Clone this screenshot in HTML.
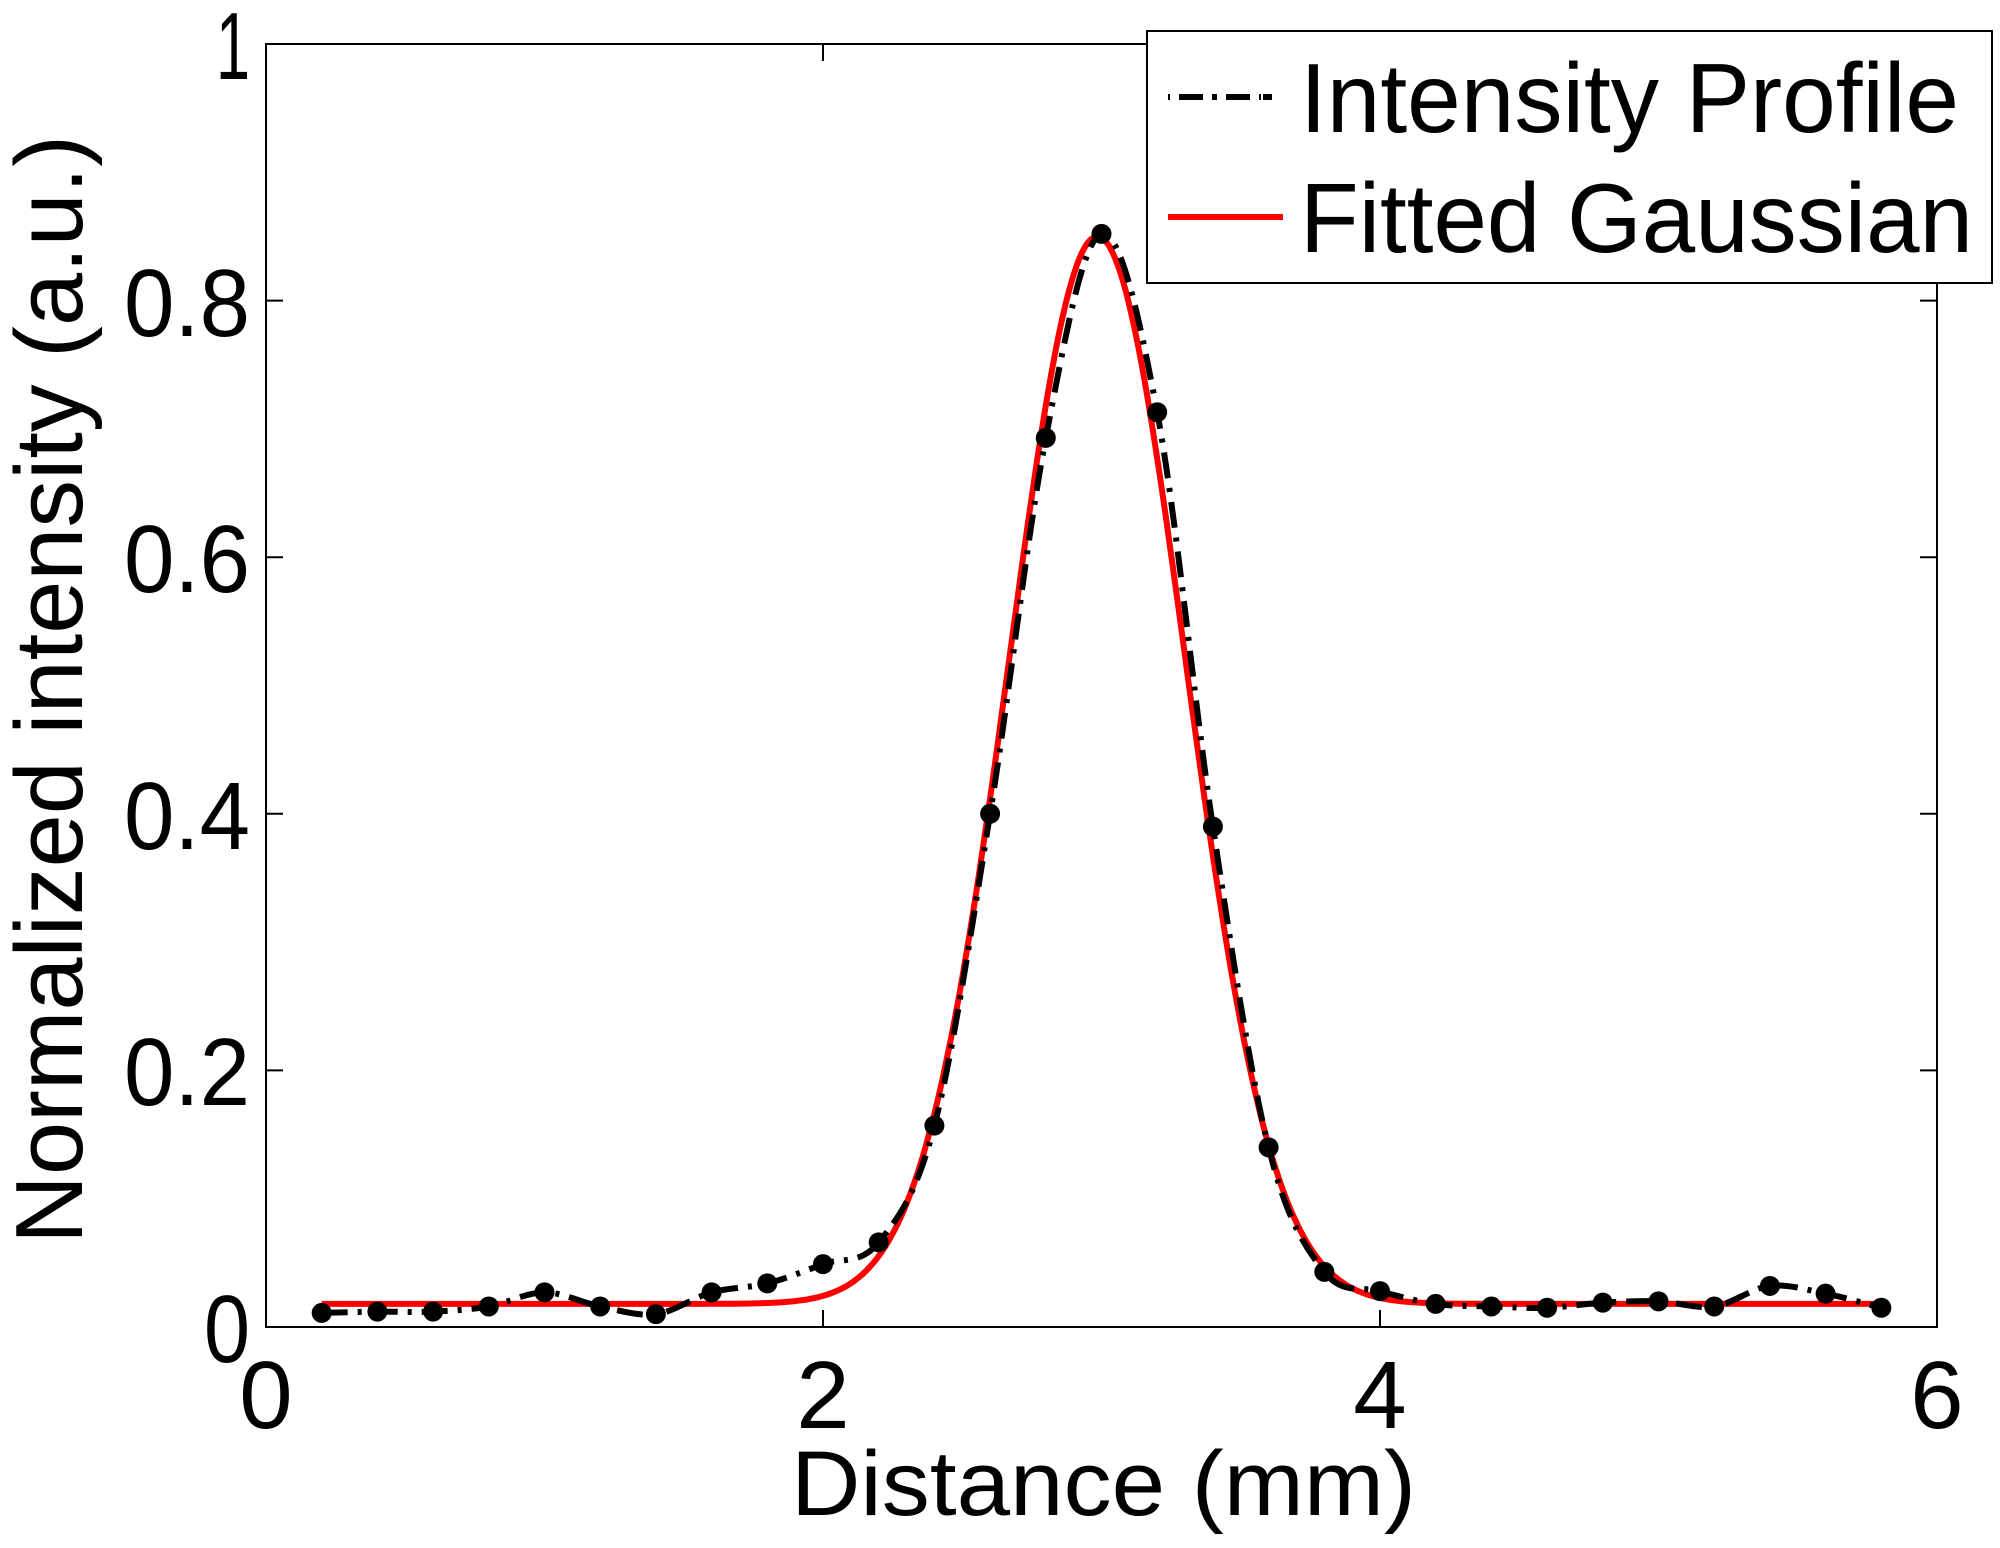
<!DOCTYPE html>
<html><head><meta charset="utf-8"><style>
html,body{margin:0;padding:0;background:#fff;}
svg{display:block;}
text{font-family:"Liberation Sans",sans-serif;fill:#000;}
</style></head><body>
<svg id="s" width="2000" height="1548" viewBox="0 0 2000 1548" xmlns="http://www.w3.org/2000/svg">
<rect width="2000" height="1548" fill="#fff"/>
<g id="plot"></g>
<rect x="266" y="44" width="1671" height="1283" fill="none" stroke="#000" stroke-width="2"/>
<g id="ticks" stroke="#000" stroke-width="2"></g>
<g font-size="96" text-anchor="end">
<text x="250" y="1362" textLength="46" lengthAdjust="spacingAndGlyphs">0</text>
<text x="250" y="1105" textLength="126" lengthAdjust="spacingAndGlyphs">0.2</text>
<text x="250" y="849" textLength="126" lengthAdjust="spacingAndGlyphs">0.4</text>
<text x="250" y="592" textLength="126" lengthAdjust="spacingAndGlyphs">0.6</text>
<text x="250" y="336" textLength="126" lengthAdjust="spacingAndGlyphs">0.8</text>
<text x="250" y="79" textLength="34" lengthAdjust="spacingAndGlyphs">1</text>
</g>
<g font-size="96" text-anchor="middle">
<text x="266" y="1428">0</text>
<text x="823" y="1428">2</text>
<text x="1380" y="1428">4</text>
<text x="1937" y="1428">6</text>
</g>
<text x="791" y="1515" font-size="92" textLength="625" lengthAdjust="spacingAndGlyphs">Distance (mm)</text>
<text transform="translate(82,1244) rotate(-90)" font-size="96" textLength="1109" lengthAdjust="spacingAndGlyphs">Normalized intensity (a.u.)</text>
<rect x="1147" y="31" width="845" height="252" fill="#fff" stroke="#000" stroke-width="2"/>
<line x1="1168" y1="97" x2="1283" y2="97" stroke="#000" stroke-width="6" stroke-dasharray="2,9,24,9,5,9,24,9,2"/>
<line x1="1168" y1="217" x2="1283" y2="217" stroke="#f00" stroke-width="6"/>
<text x="1300" y="132" font-size="98" textLength="659" lengthAdjust="spacingAndGlyphs">Intensity Profile</text>
<text x="1300" y="252" font-size="98" textLength="673" lengthAdjust="spacingAndGlyphs">Fitted Gaussian</text>
</svg>
<script>
var X=function(v){return 266+v*278.5;},Y=function(v){return 1327-v*1283;};
var ys=[0.011,0.012,0.012,0.016,0.027,0.016,0.010,0.027,0.034,0.049,0.066,0.157,0.40,0.693,0.852,0.713,0.39,0.14,0.043,0.028,0.018,0.016,0.015,0.019,0.020,0.016,0.032,0.026,0.015];
var pts=ys.map(function(y,i){return [X(0.2+0.2*i),Y(y)];});
var g=document.getElementById('plot'),NS="http://www.w3.org/2000/svg";
var d="";for(var i=0;i<=560;i++){var x=0.2+i*0.01;var v=0.018+0.832*Math.exp(-Math.pow(x-2.985,2)/(2*0.315*0.315));d+=(i?"L":"M")+X(x).toFixed(1)+","+Y(v).toFixed(1);}
var p=document.createElementNS(NS,"path");p.setAttribute("d",d);p.setAttribute("fill","none");p.setAttribute("stroke","#f00");p.setAttribute("stroke-width","6");g.appendChild(p);
var d2="M"+pts[0][0]+","+pts[0][1];
for(var i=0;i<pts.length-1;i++){var p0=pts[Math.max(i-1,0)],p1=pts[i],p2=pts[i+1],p3=pts[Math.min(i+2,pts.length-1)];
d2+="C"+(p1[0]+(p2[0]-p0[0])/6).toFixed(1)+","+(p1[1]+(p2[1]-p0[1])/6).toFixed(1)+" "+(p2[0]-(p3[0]-p1[0])/6).toFixed(1)+","+(p2[1]-(p3[1]-p1[1])/6).toFixed(1)+" "+p2[0].toFixed(1)+","+p2[1].toFixed(1);}
var q=document.createElementNS(NS,"path");q.setAttribute("d",d2);q.setAttribute("fill","none");q.setAttribute("stroke","#000");q.setAttribute("stroke-width","6");q.setAttribute("stroke-dasharray","26,10,4,10");g.appendChild(q);
pts.forEach(function(p){var c=document.createElementNS(NS,"circle");c.setAttribute("cx",p[0]);c.setAttribute("cy",p[1]);c.setAttribute("r","10");c.setAttribute("fill","#000");g.appendChild(c);});
var t=document.getElementById('ticks');
function L(a,b,c,e){var l=document.createElementNS(NS,"line");l.setAttribute("x1",a);l.setAttribute("y1",b);l.setAttribute("x2",c);l.setAttribute("y2",e);t.appendChild(l);}
[0,2,4,6].forEach(function(v){var x=X(v);L(x,1327,x,1310);L(x,44,x,61);});
[0,0.2,0.4,0.6,0.8,1].forEach(function(v){var y=Y(v);L(266,y,283,y);L(1937,y,1920,y);});
</script>
</body></html>
